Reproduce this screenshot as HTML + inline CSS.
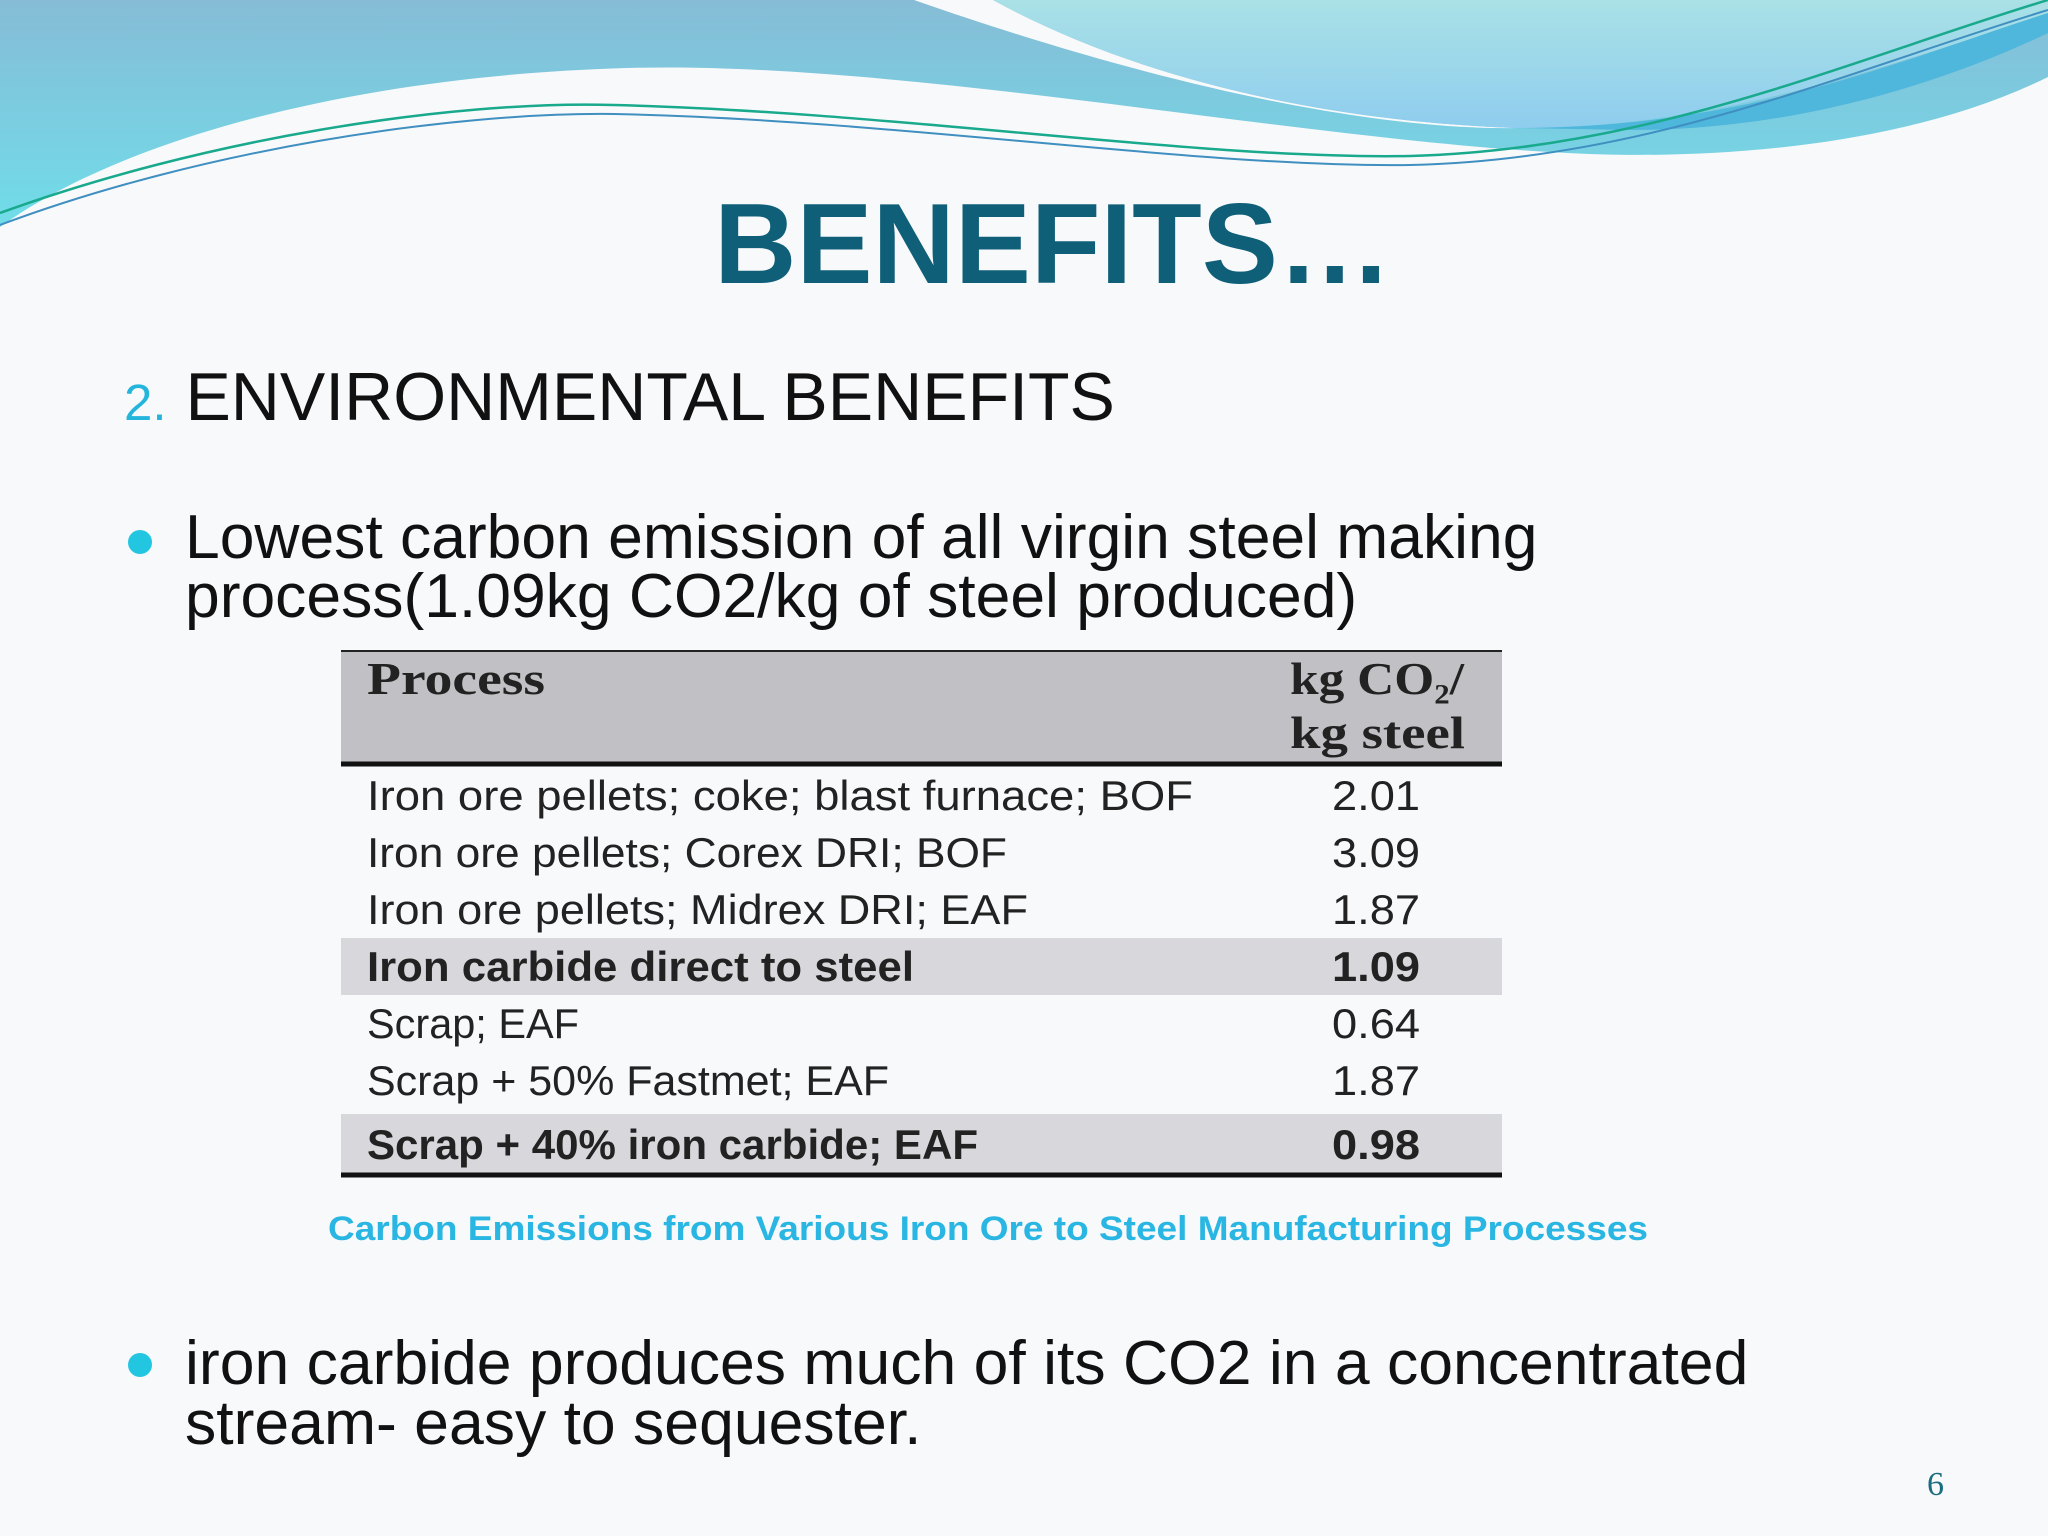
<!DOCTYPE html>
<html><head><meta charset="utf-8"><style>
html,body{margin:0;padding:0}
body{width:2048px;height:1536px;position:relative;overflow:hidden;background:#f8f9fb;font-family:"Liberation Sans",sans-serif}
.t{position:absolute;white-space:nowrap}
</style></head><body>
<svg width="2048" height="260" style="position:absolute;left:0;top:0">
<defs>
<linearGradient id="g1" x1="0" y1="0" x2="0" y2="1"><stop offset="0" stop-color="#86bcd6"/><stop offset="1" stop-color="#70dde9"/></linearGradient>
<linearGradient id="g2" x1="0" y1="0" x2="0" y2="1"><stop offset="0" stop-color="#a9e1e6"/><stop offset="1" stop-color="#8fcdee"/></linearGradient>
</defs>
<path d="M0,0 H2048 V77 C1900,150 1700,160 1567,153 C1300,140 900,60 627,68 C350,76 120,140 0,227 Z" fill="url(#g1)"/>
<path d="M914,0 H993 C1120,70 1300,120 1515,128 C1400,130 1200,100 914,0Z" fill="#f8f9fb"/>
<path d="M993,0 H2048 V13 C1850,80 1700,128 1515,128 C1300,120 1120,70 993,0Z" fill="url(#g2)"/>
<path d="M1515,128 C1750,128 1900,60 2048,13 V33 C1950,80 1800,130 1632,130 Z" fill="#4fb6dc"/>
<path d="M0,213 C200,140 450,100 614,105 C900,112 1200,160 1410,156 C1650,150 1850,60 2048,0" stroke="#19a98d" stroke-width="2.5" fill="none"/>
<path d="M0,225 C200,150 450,112 614,114 C900,120 1200,168 1410,165 C1650,160 1850,70 2048,10" stroke="#3f8fc0" stroke-width="2" fill="none"/>
</svg>
<div class="t" style="left:0;width:2106px;text-align:center;top:180px;font-size:114px;font-weight:bold;color:#0f5f78;line-height:130px">BENEFITS…</div>
<div class="t" style="left:124px;top:357px;font-size:68px;color:#111;line-height:80px"><span style="color:#23b5dc;font-size:51px">2.</span> ENVIRONMENTAL BENEFITS</div>
<div class="t" style="left:128px;top:530px;width:24px;height:24px;border-radius:50%;background:#23c6e0"></div>
<div class="t" style="left:185px;top:508px;font-size:62.4px;color:#111;line-height:59px">Lowest carbon emission of all virgin steel making<br>process(1.09kg CO2/kg of steel produced)</div>
<svg width="2048" height="1536" style="position:absolute;left:0;top:0">
<rect x="341" y="651" width="1161" height="112" fill="#c1c1c5"/>
<line x1="341" y1="651" x2="1502" y2="651" stroke="#222" stroke-width="2"/>
<line x1="341" y1="764" x2="1502" y2="764" stroke="#111" stroke-width="5"/>
<rect x="341" y="938" width="1161" height="57" fill="#d8d8dc"/>
<rect x="341" y="1114" width="1161" height="59" fill="#d8d8dc"/>
<line x1="341" y1="1175" x2="1502" y2="1175" stroke="#111" stroke-width="5"/>
<g font-family="Liberation Serif,serif" font-weight="bold" font-size="46" fill="#222">
<text x="367" y="694" textLength="178" lengthAdjust="spacingAndGlyphs">Process</text>
<text x="1290" y="694" textLength="174" lengthAdjust="spacingAndGlyphs">kg CO₂/</text>
<text x="1290" y="748" textLength="175" lengthAdjust="spacingAndGlyphs">kg steel</text>
</g>
<g font-family="Liberation Sans,sans-serif" font-size="42" fill="#222">
<text x="367" y="810" textLength="826" lengthAdjust="spacingAndGlyphs">Iron ore pellets; coke; blast furnace; BOF</text>
<text x="1332" y="810" textLength="88" lengthAdjust="spacingAndGlyphs">2.01</text>
<text x="367" y="867" textLength="640" lengthAdjust="spacingAndGlyphs">Iron ore pellets; Corex DRI; BOF</text>
<text x="1332" y="867" textLength="88" lengthAdjust="spacingAndGlyphs">3.09</text>
<text x="367" y="924" textLength="661" lengthAdjust="spacingAndGlyphs">Iron ore pellets; Midrex DRI; EAF</text>
<text x="1332" y="924" textLength="88" lengthAdjust="spacingAndGlyphs">1.87</text>
<text x="367" y="981" font-weight="bold" textLength="547" lengthAdjust="spacingAndGlyphs">Iron carbide direct to steel</text>
<text x="1332" y="981" font-weight="bold" textLength="88" lengthAdjust="spacingAndGlyphs">1.09</text>
<text x="367" y="1038" textLength="212" lengthAdjust="spacingAndGlyphs">Scrap; EAF</text>
<text x="1332" y="1038" textLength="88" lengthAdjust="spacingAndGlyphs">0.64</text>
<text x="367" y="1095" textLength="522" lengthAdjust="spacingAndGlyphs">Scrap + 50% Fastmet; EAF</text>
<text x="1332" y="1095" textLength="88" lengthAdjust="spacingAndGlyphs">1.87</text>
<text x="367" y="1159" font-weight="bold" textLength="611" lengthAdjust="spacingAndGlyphs">Scrap + 40% iron carbide; EAF</text>
<text x="1332" y="1159" font-weight="bold" textLength="88" lengthAdjust="spacingAndGlyphs">0.98</text>
</g>
<text x="328" y="1240" font-family="Liberation Sans,sans-serif" font-weight="bold" font-size="34" fill="#2ab6e2" textLength="1320" lengthAdjust="spacingAndGlyphs">Carbon Emissions from Various Iron Ore to Steel Manufacturing Processes</text>
</svg>
<div class="t" style="left:128px;top:1353px;width:24px;height:24px;border-radius:50%;background:#23c6e0"></div>
<div class="t" style="left:185px;top:1333px;font-size:62.5px;color:#111;line-height:60px">iron carbide produces much of its CO2 in a concentrated<br>stream- easy to sequester.</div>
<div class="t" style="left:1927px;top:1466px;font-family:'Liberation Serif',serif;font-size:34px;color:#1a6d80">6</div>
</body></html>
